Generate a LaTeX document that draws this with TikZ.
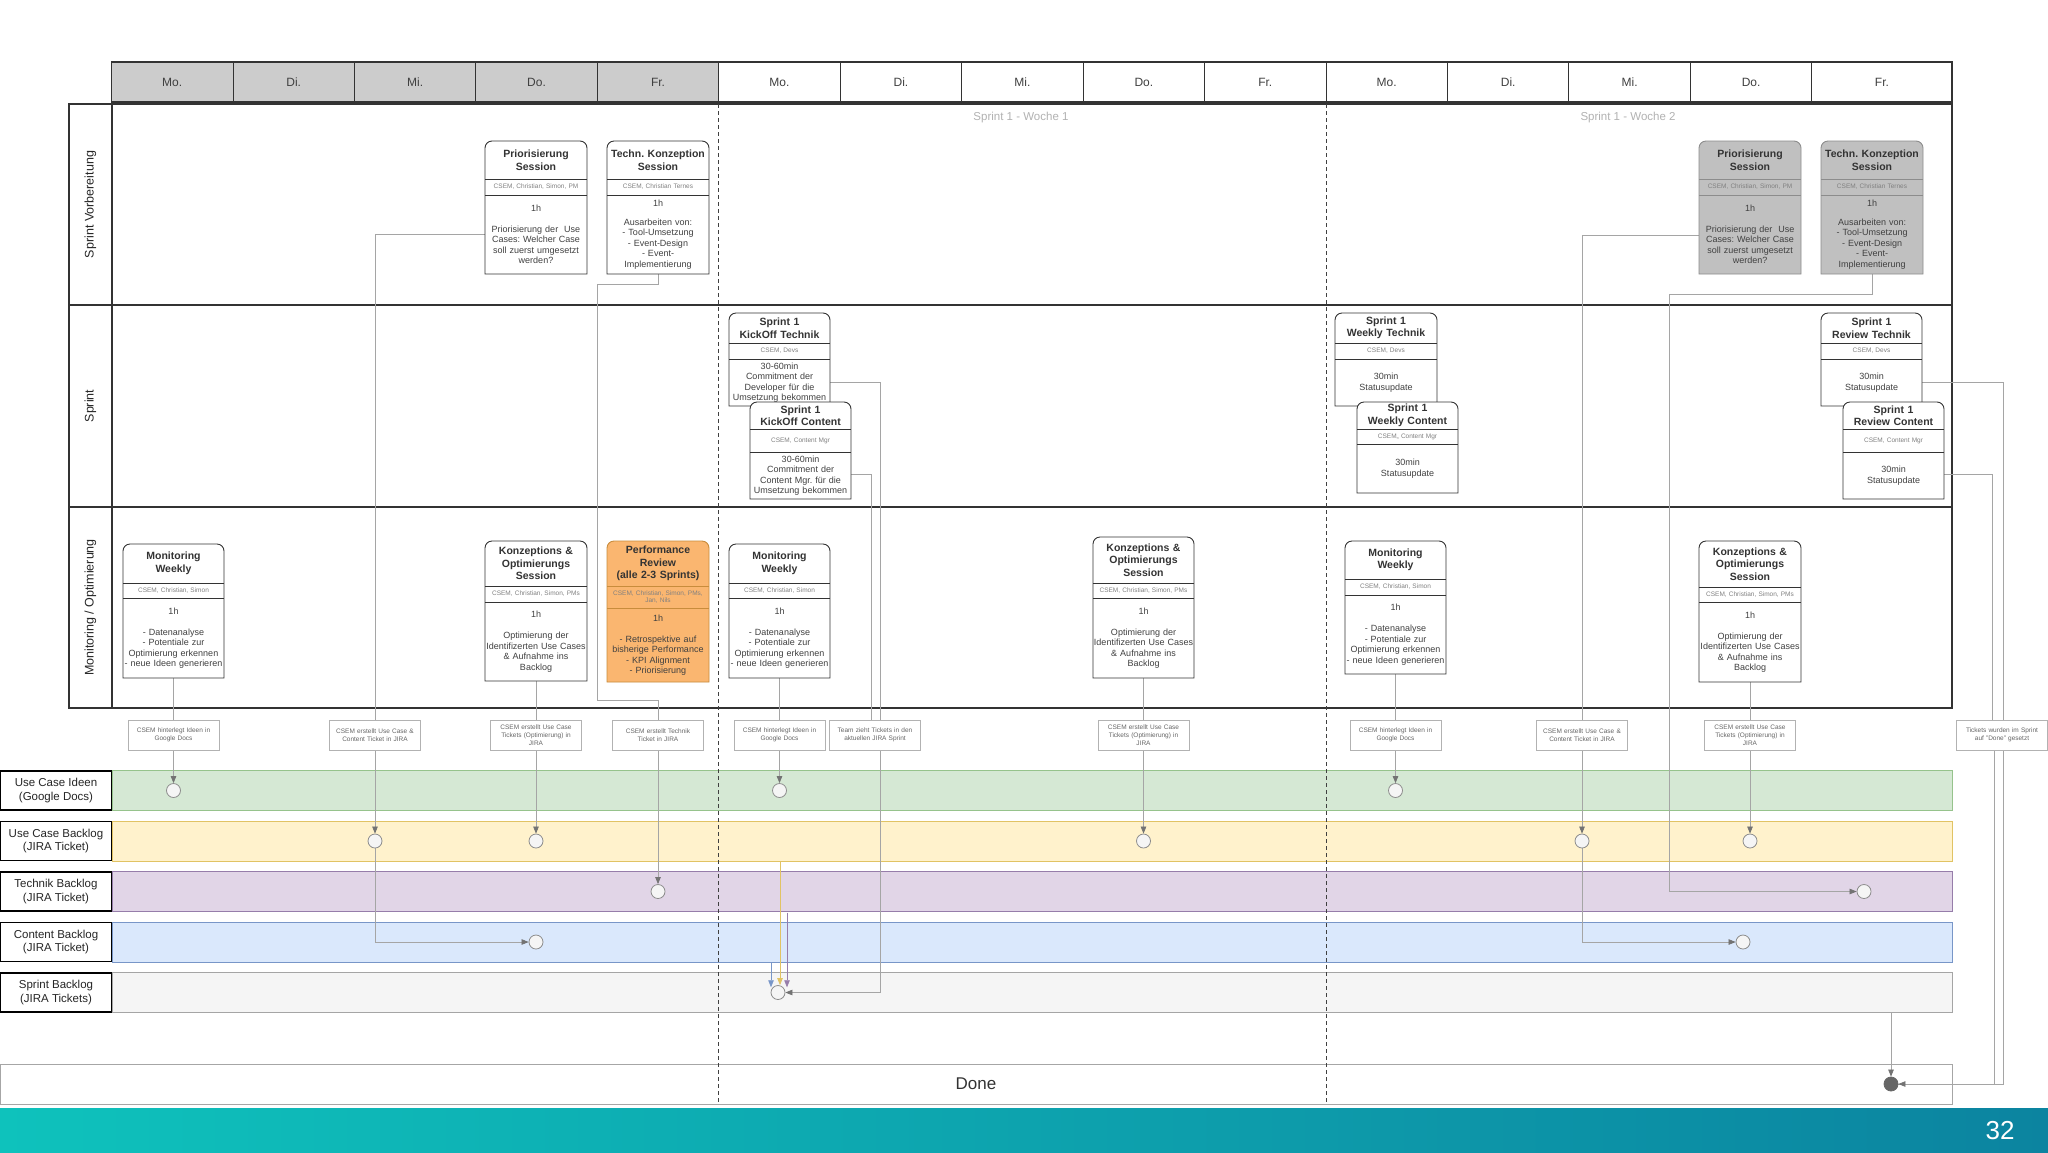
\documentclass[tikz,border=0pt]{standalone}
\usepackage{fontspec}
\setmainfont{Liberation Sans}
\usetikzlibrary{arrows.meta,calc,fit}
\pgfdeclarelayer{bg}
\pgfdeclarelayer{conn}
\pgfsetlayers{bg,conn,main}
\definecolor{hdrgray}{RGB}{204,204,204}
\definecolor{lnc}{RGB}{51,51,51}
\definecolor{conc}{RGB}{165,165,165}
\definecolor{gfill}{RGB}{213,232,212}\definecolor{gdraw}{RGB}{150,195,140}
\definecolor{yfill}{RGB}{255,242,204}\definecolor{ydraw}{RGB}{225,195,100}
\definecolor{pfill}{RGB}{225,213,231}\definecolor{pdraw}{RGB}{150,125,170}
\definecolor{bfill}{RGB}{218,232,252}\definecolor{bdraw}{RGB}{120,150,200}
\definecolor{sfill}{RGB}{245,245,245}\definecolor{sdraw}{RGB}{165,165,165}
\definecolor{ofill}{RGB}{250,182,112}\definecolor{odraw}{RGB}{200,140,60}
\definecolor{wkgray}{RGB}{192,192,192}
\definecolor{tealA}{RGB}{14,194,188}\definecolor{tealB}{RGB}{12,132,160}

\newcommand\evframe[8]{% name, style, x1, x2, y1, d1, d2, y2
  \path (#3,#5) coordinate (#1-nw) (#4,#8) coordinate (#1-se);
  \node[fit=(#1-nw)(#1-se), inner sep=0pt] (#1) {};
  \draw[evline,#2] (#3,#8) -- (#3,#5+7) arc[start angle=180,end angle=270,radius=7] -- (#4-7,#5) arc[start angle=270,end angle=360,radius=7] -- (#4,#8) -- cycle;
  \draw[evline,#2,fill=none] (#3,#6) -- (#4,#6) (#3,#7) -- (#4,#7);
  \coordinate (#1-tc) at ({(#3+#4)/2},{(#5+#6)/2});
  \coordinate (#1-ac) at ({(#3+#4)/2},{(#6+#7)/2});
  \coordinate (#1-bc) at ({(#3+#4)/2},{(#7+#8)/2});
}
\newcommand\evtext[4]{%
  \node[evtitle] (#1-t) at (#1-tc) {#2};
  \node[evatt] (#1-a) at (#1-ac) {#3};
  \node[evbody] (#1-b) at (#1-bc) {#4};
}

\begin{document}
\frenchspacing
\begin{tikzpicture}[x=1pt,y=-1pt,
  evline/.style={draw=lnc,line width=0.9pt},
  evtitle/.style={font=\frenchspacing\bfseries\fontsize{10.5}{12.5}\selectfont,text=black!80,align=center,text width=100pt,inner sep=0pt},
  evatt/.style={font=\fontsize{6.5}{7.5}\selectfont,text=black!50,align=center,text width=100pt,inner sep=0pt},
  evbody/.style={font=\frenchspacing\fontsize{9}{10.5}\selectfont,text=black!75,align=center,text width=100pt,inner sep=0pt},
  ticket/.style={draw=black!30,fill=white,line width=0.6pt,minimum width=91pt,minimum height=30pt,text width=88pt,inner sep=1pt,align=center,font=\fontsize{6.5}{8}\selectfont,text=black!60},
  conn/.style={draw=conc,line width=0.7pt},
  arr/.style={-{Triangle[length=7pt,width=5.5pt,color=black!55]}},
  circ/.style={circle,minimum size=14pt,inner sep=0pt,draw=black!45,fill=sfill,line width=0.8pt},
  blabel/.style={draw=black,line width=1.6pt,fill=white,minimum width=111pt,minimum height=39pt,align=center,font=\fontsize{11.5}{13.5}\selectfont,text=black!85,inner sep=0pt},
  band/.style={line width=1pt,minimum width=1840pt,minimum height=40pt,inner sep=0pt},
  hdrtext/.style={font=\fontsize{12}{14}\selectfont,text=black!75},
  lanelbl/.style={rotate=90,font=\fontsize{12.5}{14}\selectfont,text=black!85},
]
\useasboundingbox (0,0) rectangle (2048,1152);

\begin{pgfonlayer}{bg}
\fill[white] (0,0) rectangle (2048,1152);
% header
\foreach \i/\d in {0/Mo.,1/Di.,2/Mi.,3/Do.,4/Fr.,5/Mo.,6/Di.,7/Mi.,8/Do.,9/Fr.,10/Mo.,11/Di.,12/Mi.,13/Do.,14/Fr.}{
  \pgfmathsetmacro\xa{111.5+121.45*\i}
  \pgfmathsetmacro\xb{\i==14 ? 1952 : 111.5+121.45*(\i+1)}
  \ifnum\i<5 \def\hf{hdrgray}\else\def\hf{white}\fi
  \draw[draw=lnc,line width=0.9pt,fill=\hf] (\xa,62) rectangle (\xb,102);
  \node[hdrtext] (h\i) at ({(\xa+\xb)/2},82) {\d};
}
\draw[lnc,line width=1.3pt] (111.5,62) rectangle (1952,102);
% lanes
\draw[lnc,line width=1.4pt] (69,104) rectangle (1952,708);
\draw[lnc,line width=1.2pt] (112,104) -- (112,708) (69,305) -- (1952,305) (69,507) -- (1952,507);
% backlog bands
\node[band,fill=gfill,draw=gdraw] (b1) at (1032,790.5) {};
\node[band,fill=yfill,draw=ydraw] (b2) at (1032,841) {};
\node[band,fill=pfill,draw=pdraw] (b3) at (1032,891.5) {};
\node[band,fill=bfill,draw=bdraw] (b4) at (1032,942) {};
\node[band,fill=sfill,draw=sdraw] (b5) at (1032,992.5) {};
\node[draw=black!35,line width=1pt,fill=white,minimum width=1952pt,minimum height=40pt,inner sep=0pt,font=\fontsize{17}{19}\selectfont,text=black!80] (done) at (976,1084) {Done};
% teal bar
\shade[left color=tealA,right color=tealB] (0,1108) rectangle (2048,1152);
\end{pgfonlayer}

\node[lanelbl] (l1) at (90.5,204.5) {Sprint Vorbereitung};
\node[lanelbl] (l2) at (90.5,406) {Sprint};
\node[lanelbl] (l3) at (90.5,607.5) {Monitoring / Optimierung};
\node[font=\fontsize{11.5}{13}\selectfont,text=black!30] (wk1) at (1021,118) {Sprint 1 - Woche 1};
\node[font=\fontsize{11.5}{13}\selectfont,text=black!30] (wk2) at (1628,118) {Sprint 1 - Woche 2};

\node[blabel] (r1) at (56,790.5) {Use Case Ideen\\(Google Docs)};
\node[blabel] (r2) at (56,841) {Use Case Backlog\\(JIRA Ticket)};
\node[blabel] (r3) at (56,891.5) {Technik Backlog\\(JIRA Ticket)};
\node[blabel] (r4) at (56,942) {Content Backlog\\(JIRA Ticket)};
\node[blabel] (r5) at (56,992.5) {Sprint Backlog\\(JIRA Tickets)};
\node[text=white,font=\fontsize{26}{28}\selectfont] (pg) at (2000,1131) {32};

% event boxes
\evframe{prio0}{fill=white}{485}{587}{141}{179}{195}{274}
\evtext{prio0}{Priorisierung\\Session}{CSEM, Christian, Simon, PM}{1h\\[10.5pt]Priorisierung der~ Use\\Cases: Welcher Case\\soll zuerst umgesetzt\\werden?}
\evframe{tk0}{fill=white}{607}{709}{141}{179}{195}{274}
\evtext{tk0}{Techn. Konzeption\\Session}{CSEM, Christian Ternes}{1h\\[8pt]Ausarbeiten von:\\- Tool-Umsetzung\\- Event-Design\\- Event-\\Implementierung}
\evframe{prio2}{fill=wkgray,draw=black!45}{1699}{1801}{141}{179}{195}{274}
\evtext{prio2}{Priorisierung\\Session}{CSEM, Christian, Simon, PM}{1h\\[10.5pt]Priorisierung der~ Use\\Cases: Welcher Case\\soll zuerst umgesetzt\\werden?}
\evframe{tk2}{fill=wkgray,draw=black!45}{1821}{1923}{141}{179}{195}{274}
\evtext{tk2}{Techn. Konzeption\\Session}{CSEM, Christian Ternes}{1h\\[8pt]Ausarbeiten von:\\- Tool-Umsetzung\\- Event-Design\\- Event-\\Implementierung}

\evframe{kt}{fill=white}{729}{830}{313}{343}{359}{406}
\evtext{kt}{Sprint 1\\KickOff Technik}{CSEM, Devs}{30-60min\\Commitment der\\Developer für die\\Umsetzung bekommen}
\evframe{kc}{fill=white}{750}{851}{402}{429}{452}{499}
\evtext{kc}{Sprint 1\\KickOff Content}{CSEM, Content Mgr}{30-60min\\Commitment der\\Content Mgr. für die\\Umsetzung bekommen}
\evframe{wt}{fill=white}{1335}{1437}{313}{343}{359}{406}
\evtext{wt}{Sprint 1\\Weekly Technik}{CSEM, Devs}{30min\\Statusupdate}
\evframe{wc}{fill=white}{1357}{1458}{402}{429}{444}{493}
\evtext{wc}{Sprint 1\\Weekly Content}{CSEM,, Content Mgr}{30min\\Statusupdate}
\evframe{rt}{fill=white}{1821}{1922}{313}{343}{359}{406}
\evtext{rt}{Sprint 1\\Review Technik}{CSEM, Devs}{30min\\Statusupdate}
\evframe{rc}{fill=white}{1843}{1944}{402}{429}{452}{499}
\evtext{rc}{Sprint 1\\Review Content}{CSEM, Content Mgr}{30min\\Statusupdate}

\evframe{mon0}{fill=white}{123}{224}{544}{583}{598}{678}
\evtext{mon0}{Monitoring\\Weekly}{CSEM, Christian, Simon}{1h\\[10.5pt]- Datenanalyse\\- Potentiale zur\\Optimierung erkennen\\- neue Ideen generieren}
\evframe{kon0}{fill=white}{485}{587}{541}{586}{602}{681}
\evtext{kon0}{Konzeptions \&\\Optimierungs\\Session}{CSEM, Christian, Simon, PMs}{1h\\[10.5pt]Optimierung der\\Identifizerten Use Cases\\\& Aufnahme ins\\Backlog}
\evframe{perf}{fill=ofill,draw=odraw}{607}{709}{541}{586}{608}{682}
\evtext{perf}{Performance\\Review\\(alle 2-3 Sprints)}{CSEM, Christian, Simon, PMs,\\Jan, Nils}{1h\\[10.5pt]- Retrospektive auf\\bisherige Performance\\- KPI Alignment\\- Priorisierung}
\evframe{mon1}{fill=white}{729}{830}{544}{583}{598}{678}
\evtext{mon1}{Monitoring\\Weekly}{CSEM, Christian, Simon}{1h\\[10.5pt]- Datenanalyse\\- Potentiale zur\\Optimierung erkennen\\- neue Ideen generieren}
\evframe{kon1}{fill=white}{1093}{1194}{537}{583}{598}{678}
\evtext{kon1}{Konzeptions \&\\Optimierungs\\Session}{CSEM, Christian, Simon, PMs}{1h\\[10.5pt]Optimierung der\\Identifizerten Use Cases\\\& Aufnahme ins\\Backlog}
\evframe{mon2}{fill=white}{1345}{1446}{541}{579}{595}{674}
\evtext{mon2}{Monitoring\\Weekly}{CSEM, Christian, Simon}{1h\\[10.5pt]- Datenanalyse\\- Potentiale zur\\Optimierung erkennen\\- neue Ideen generieren}
\evframe{kon2}{fill=white}{1699}{1801}{541}{587}{602}{682}
\evtext{kon2}{Konzeptions \&\\Optimierungs\\Session}{CSEM, Christian, Simon, PMs}{1h\\[10.5pt]Optimierung der\\Identifizerten Use Cases\\\& Aufnahme ins\\Backlog}

% tickets
\node[ticket] (t1) at (173.5,735) {CSEM hinterlegt Ideen in\\Google Docs};
\node[ticket] (t2) at (375,735) {CSEM erstellt Use Case \&\\Content Ticket in JIRA};
\node[ticket] (t3) at (536,735) {CSEM erstellt Use Case\\Tickets (Optimierung) in\\JIRA};
\node[ticket] (t4) at (658,735) {CSEM erstellt Technik\\Ticket in JIRA};
\node[ticket] (t5) at (779.5,735) {CSEM hinterlegt Ideen in\\Google Docs};
\node[ticket] (t6) at (875,735) {Team zieht Tickets in den\\aktuellen JIRA Sprint};
\node[ticket] (t7) at (1143.5,735) {CSEM erstellt Use Case\\Tickets (Optimierung) in\\JIRA};
\node[ticket] (t8) at (1395.5,735) {CSEM hinterlegt Ideen in\\Google Docs};
\node[ticket] (t9) at (1582,735) {CSEM erstellt Use Case \&\\Content Ticket in JIRA};
\node[ticket] (t10) at (1750,735) {CSEM erstellt Use Case\\Tickets (Optimierung) in\\JIRA};
\node[ticket] (t11) at (2002,735) {Tickets wurden im Sprint\\auf "Done" gesetzt};

% circles
\node[circ] (c1) at (173.5,790.5) {};
\node[circ] (c2) at (375,841) {};
\node[circ] (c3) at (536,942) {};
\node[circ] (c4) at (536,841) {};
\node[circ] (c5) at (658,891.5) {};
\node[circ] (c6) at (778,992.5) {};
\node[circ] (c7) at (779.5,790.5) {};
\node[circ] (c8) at (1143.5,841) {};
\node[circ] (c9) at (1395.5,790.5) {};
\node[circ] (c10) at (1582,841) {};
\node[circ] (c11) at (1743,942) {};
\node[circ] (c12) at (1750,841) {};
\node[circ] (c13) at (1864,891.5) {};
\node[circ,fill=black!60,draw=black!60] (cd) at (1891,1084) {};

\begin{pgfonlayer}{conn}
\draw[dash pattern=on 4pt off 3pt,black!75,line width=0.7pt] (718.8,104) -- (718.8,1104);
\draw[dash pattern=on 4pt off 3pt,black!75,line width=0.7pt] (1326,104) -- (1326,1104);
\draw[conn] (mon0.south) -- (t1.north);
\draw[conn,arr] (t1.south) -- (c1.north);
\draw[conn] ([yshift=-26.5pt]prio0.west) -| (t2.north);
\draw[conn,arr] (t2.south) -- (c2.north);
\draw[conn,arr] (c2.south) |- (c3.west);
\draw[conn] (kon0.south) -- (t3.north);
\draw[conn,arr] (t3.south) -- (c4.north);
\draw[conn] (tk0.south) -- ++(0,10) -- ++(-61,0) -- ++(0,416) -| (t4.north);
\draw[conn,arr] (t4.south) -- (c5.north);
\draw[conn] ([yshift=-22.5pt]kt.east) -| ([xshift=5pt]t6.north);
\draw[conn] ([yshift=-23.5pt]kc.east) -| ([xshift=-4pt]t6.north);
\draw[conn,arr] ([xshift=5pt]t6.south) |- (c6.east);
\coordinate (ysrc) at (780,862);
\coordinate (psrc) at (787,912.5);
\coordinate (bsrc) at (771,962.5);
\draw[draw=ydraw,line width=0.7pt,-{Triangle[length=7pt,width=5.5pt]}] (ysrc) -- (ysrc |- c6.north);
\draw[draw=pdraw,line width=0.7pt,-{Triangle[length=7pt,width=5.5pt]}] (psrc) -- (psrc |- c6.north east);
\draw[draw=bdraw,line width=0.7pt,-{Triangle[length=7pt,width=5.5pt]}] (bsrc) -- (bsrc |- c6.north west);
\draw[conn] (mon1.south) -- (t5.north);
\draw[conn,arr] (t5.south) -- (c7.north);
\draw[conn] (kon1.south) -- (t7.north);
\draw[conn,arr] (t7.south) -- (c8.north);
\draw[conn] (mon2.south) -- (t8.north);
\draw[conn,arr] (t8.south) -- (c9.north);
\draw[conn] ([yshift=-27.5pt]prio2.west) -| (t9.north);
\draw[conn,arr] (t9.south) -- (c10.north);
\draw[conn,arr] (c10.south) |- (c11.west);
\draw[conn] (kon2.south) -- (t10.north);
\draw[conn,arr] (t10.south) -- (c12.north);
\draw[conn,arr] (tk2.south) -- ++(0,20) -- ++(-203,0) |- (c13.west);
\draw[conn] ([yshift=-22.5pt]rt.east) -| ([xshift=1pt]t11.north);
\draw[conn] ([yshift=-23.5pt]rc.east) -| ([xshift=-10pt]t11.north);
\draw[conn] ([xshift=-8pt]t11.south) |- (cd.east);
\draw[conn,arr] ([xshift=1pt]t11.south) |- (cd.east);
\coordinate (sbout) at (1891,1012.5);
\draw[conn,arr] (sbout) -- (cd.north);
\end{pgfonlayer}
\end{tikzpicture}
\end{document}
